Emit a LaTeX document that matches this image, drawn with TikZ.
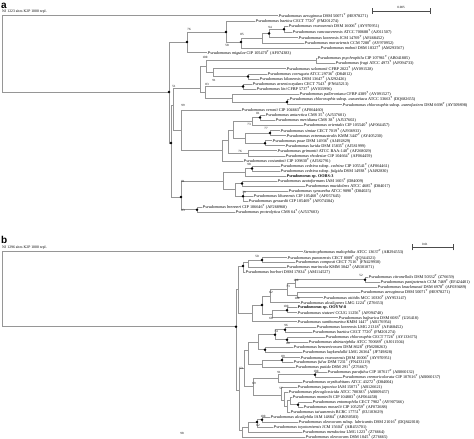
\documentclass[tikz,border=0pt]{standalone}
\usepackage{fontspec}
\setmainfont{Liberation Serif}
\setsansfont{Liberation Sans}
\usetikzlibrary{positioning}
\definecolor{branchgray}{RGB}{150,150,150}
\newcommand{\taxon}[3]{\textit{Pseudomonas #1} #2\textsuperscript{T} (#3)}

\begin{document}
\begin{tikzpicture}[
    x=1pt, y=-1pt,
    branch/.style={draw=branchgray, line width=0.8pt},
    taxonlabel/.style={anchor=west, inner sep=0.5pt, font=\fontsize{4.2}{4.4}\selectfont},
    bootval/.style={inner sep=0pt, font=\fontsize{3.2}{3.4}\selectfont},
    nodedot/.style={circle, fill=black, inner sep=0pt, minimum size=2.8pt},
    panellabel/.style={anchor=base west, inner sep=0pt, font=\sffamily\bfseries\fontsize{10}{10}\selectfont},
    headline/.style={anchor=west, inner sep=0pt, font=\fontsize{3.8}{4}\selectfont},
    scalebar/.style={draw=black!70, line width=0.5pt, |-|}
]
\useasboundingbox (0,0) rectangle (474,439);

% ---------------- panel a
\node[panellabel] (pa) at (1,8.5) {a};
\node[headline] (ha) at (2,11.5) {NJ 1223 sites K2P 1000 repl.};
\draw[scalebar] (372,11) -- (430,11);
\node[bootval] (sa) at (401,7.5) {0.005};

\node[taxonlabel] (aer) at (278,15.7) {\taxon{aeruginosa}{DSM 50071}{HE978271}};
\node[taxonlabel] (bae) at (255,21.3) {\taxon{baetica}{CECT 7720}{FM201274}};
\node[taxonlabel] (vra) at (288,26.3) {\taxon{vranovensis}{DSM 16006}{AY970951}};
\node[taxonlabel] (van) at (292,32) {\taxon{vancouverensis}{ATCC 700688}{AJ011507}};
\node[taxonlabel] (kor) at (298,37.5) {\taxon{koreensis}{JCM 14769}{AF468452}};
\node[taxonlabel] (mor) at (304,43) {\taxon{moraviensis}{CCM 7280}{AY970952}};
\node[taxonlabel] (moh) at (320,48) {\taxon{mohnii}{DSM 18327}{AM293567}};
\node[taxonlabel] (mig) at (207,52.7) {\taxon{migulae}{CIP 105470}{AF074383}};
\node[taxonlabel] (psy) at (317,58.3) {\taxon{psychrophila}{CIP 107961}{AB041885}};
\node[taxonlabel] (fra) at (335,63.3) {\taxon{fragi}{ATCC 4973}{AF094733}};
\node[taxonlabel] (sal) at (286,68.7) {\taxon{salomonii}{CFBP 2022}{AY091528}};
\node[taxonlabel] (cor) at (267,74) {\taxon{corrugata}{ATCC 29736}{D84012}};
\node[taxonlabel] (kil) at (259,79) {\taxon{kilonensis}{DSM 13647}{AJ292426}};
\node[taxonlabel] (ars) at (252,83.9) {\taxon{arsenicoxydans}{CECT 7543}{FN645213}};
\node[taxonlabel] (lin) at (256,89) {\taxon{lini}{CFBP 5737}{AY035996}};
\node[taxonlabel] (pal) at (299,94.3) {\taxon{palleroniana}{CFBP 4389}{AY091527}};
\node[taxonlabel] (aur) at (289,99.3) {\taxon{chlororaphis\upshape{} subsp. \itshape aurantiaca}{ATCC 33663}{DQ682655}};
\node[taxonlabel] (auf) at (342,104.5) {\taxon{chlororaphis\upshape{} subsp. \itshape aureofaciens}{DSM 6698}{AY509898}};
\node[taxonlabel] (ver) at (241,110) {\taxon{veronii}{CIP 104663}{AF064460}};
\node[taxonlabel] (ant) at (265,115) {\taxon{antarctica}{CMS 35}{AJ537601}};
\node[taxonlabel] (mer) at (275,120) {\taxon{meridiana}{CMS 38}{AJ537602}};
\node[taxonlabel] (ori) at (303,125) {\taxon{orientalis}{CIP 105540}{AF064457}};
\node[taxonlabel] (sim) at (280,130.5) {\taxon{simiae}{CECT 7019}{AJ936933}};
\node[taxonlabel] (ext) at (286,135.5) {\taxon{extremaustralis}{KMM 3447}{AY405230}};
\node[taxonlabel] (poa) at (272,140.7) {\taxon{poae}{DSM 14936}{AJ492829}};
\node[taxonlabel] (lur) at (285,145.7) {\taxon{lurida}{DSM 15835}{AJ581999}};
\node[taxonlabel] (gri) at (277,150.7) {\taxon{grimontii}{ATCC BAA-140}{AF268029}};
\node[taxonlabel] (rho) at (285,156) {\taxon{rhodesiae}{CIP 104664}{AF064459}};
\node[taxonlabel] (cos) at (243,161) {\taxon{costantinii}{CIP 109830}{AJ582791}};
\node[taxonlabel] (cec) at (280,166) {\taxon{cedrina\upshape{} subsp. \itshape cedrina}{CIP 105541}{AF064461}};
\node[taxonlabel] (cef) at (280,171) {\taxon{cedrina\upshape{} subsp. \itshape fulgida}{DSM 14938}{AJ492830}};
\node[taxonlabel] (oob) at (286,176) {\textbf{\textit{Pseudomonas} sp. OOBS-3}};
\node[taxonlabel] (azo) at (277,181) {\taxon{azotoformans}{IAM 1603}{D84009}};
\node[taxonlabel] (muc) at (305,186) {\taxon{mucidolens}{ATCC 4685}{D84017}};
\node[taxonlabel] (syn) at (288,191.3) {\taxon{synxantha}{ATCC 9890}{D84025}};
\node[taxonlabel] (lib) at (253,196.3) {\taxon{libanensis}{CIP 105460}{AF057645}};
\node[taxonlabel] (ges) at (248,201.3) {\taxon{gessardii}{CIP 105469}{AF074384}};
\node[taxonlabel] (bre) at (202,207.3) {\taxon{brenneri}{CIP 106646}{AF268968}};
\node[taxonlabel] (pro) at (235,212.3) {\taxon{proteolytica}{CMS 64}{AJ537603}};

\coordinate (Ra) at (2,54);
\coordinate (A) at (169,92);
\coordinate (N76) at (187,42);
\coordinate (N58) at (226,32);
\coordinate (N85) at (241,42);
\coordinate (Nx) at (262,38.2);
\coordinate (N94) at (269,33.4);
\coordinate (N284) at (284,29.2);
\coordinate (B) at (171,143);
\coordinate (C) at (173,105);
\coordinate (P) at (200,88);
\coordinate (N100) at (206,66.7);
\coordinate (Npf) at (316,60.8);
\coordinate (N91) at (213,72.6);
\coordinate (Nck) at (248,76.5);
\coordinate (N83) at (205,92.2);
\coordinate (Nal) at (243,86.4);
\coordinate (Npal) at (232,98.1);
\coordinate (N99) at (287,101.9);
\coordinate (Q) at (181,130);
\coordinate (Qc) at (222,150);
\coordinate (Qb) at (228,140);
\coordinate (Qa) at (233,130);
\coordinate (N73) at (252,121.2);
\coordinate (N81) at (260,117.5);
\coordinate (N138) at (245,138.1);
\coordinate (N77) at (270,133);
\coordinate (Npl) at (265,143.2);
\coordinate (N76b) at (248,153.4);
\coordinate (D) at (181,197);
\coordinate (E) at (223,181);
\coordinate (F) at (197,209.8);
\coordinate (Ncb) at (245,172.3);
\coordinate (Nced) at (252,168.5);
\coordinate (Nmid) at (235,189);
\coordinate (Nam) at (242,183.5);
\coordinate (Ng) at (243,196.3);

\draw[branch] (Ra) |- (aer.west) (Ra) |- (A);
\draw[branch] (A) |- (N76) (A) |- (B);
\draw[branch] (N76) |- (N58) (N76) |- (mig.west);
\draw[branch] (N58) |- (bae.west) (N58) |- (N85);
\draw[branch] (N85) |- (Nx) (N85) |- (moh.west);
\draw[branch] (Nx) |- (N94) (Nx) |- (mor.west);
\draw[branch] (N94) |- (N284) (N94) |- (kor.west);
\draw[branch] (N284) |- (vra.west) (N284) |- (van.west);
\draw[branch] (B) |- (C) (B) |- (D);
\draw[branch] (C) |- (P) (C) |- (Q);
\draw[branch] (P) |- (N100) (P) |- (N83);
\draw[branch] (N100) |- (Npf) (N100) |- (N91);
\draw[branch] (Npf) |- (psy.west) (Npf) |- (fra.west);
\draw[branch] (N91) |- (sal.west) (N91) |- (Nck);
\draw[branch] (Nck) |- (cor.west) (Nck) |- (kil.west);
\draw[branch] (N83) |- (Nal) (N83) |- (Npal);
\draw[branch] (Nal) |- (ars.west) (Nal) |- (lin.west);
\draw[branch] (Npal) |- (pal.west) (Npal) |- (N99);
\draw[branch] (N99) |- (aur.west) (N99) |- (auf.west);
\draw[branch] (Q) |- (ver.west) (Q) |- (Qc);
\draw[branch] (Qc) |- (Qb) (Qc) |- (cos.west);
\draw[branch] (Qb) |- (Qa) (Qb) |- (N76b);
\draw[branch] (Qa) |- (N73) (Qa) |- (N138);
\draw[branch] (N73) |- (N81) (N73) |- (ori.west);
\draw[branch] (N81) |- (ant.west) (N81) |- (mer.west);
\draw[branch] (N138) |- (N77) (N138) |- (Npl);
\draw[branch] (N77) |- (sim.west) (N77) |- (ext.west);
\draw[branch] (Npl) |- (poa.west) (Npl) |- (lur.west);
\draw[branch] (N76b) |- (gri.west) (N76b) |- (rho.west);
\draw[branch] (D) |- (E) (D) |- (F);
\draw[branch] (E) |- (Ncb) (E) |- (Nmid);
\draw[branch] (Ncb) |- (Nced) (Ncb) |- (oob.west);
\draw[branch] (Nced) |- (cec.west) (Nced) |- (cef.west);
\draw[branch] (Nmid) |- (Nam) (Nmid) |- (Ng);
\draw[branch] (Nam) |- (azo.west) (Nam) |- (muc.west);
\draw[branch] (Ng) |- (syn.west) (Ng) |- (lib.west) (Ng) |- (ges.west);
\draw[branch] (F) |- (bre.west) (F) |- (pro.west);

\foreach \n in {A,N76,N58,N85,N94,N284,B,Nck,Nal,N99,N81,N77,Npl,Nced,Nam,Ng,D,F}
    \node[nodedot] at (\n) {};

% bootstrap values
\node[bootval] at (174,86) {51};
\node[bootval] at (189,29) {76};
\node[bootval] at (227,45) {58};
\node[bootval] at (242,34) {85};
\node[bootval] at (270,27) {94};
\node[bootval] at (205,57) {100};
\node[bootval] at (214,80) {91};
\node[bootval] at (207,84) {83};
\node[bootval] at (183,105) {99};
\node[bootval] at (258,113) {81};
\node[bootval] at (249,124) {73};
\node[bootval] at (266,128) {77};
\node[bootval] at (240,151) {76};
\node[bootval] at (249,164) {98};
\node[bootval] at (244,192) {79};
\node[bootval] at (183,181) {81};
\node[bootval] at (183,210) {83};

% ---------------- panel b
\node[panellabel] (pb) at (1,243) {b};
\node[headline] (hb) at (2,247.5) {NJ 1296 sites K2P 1000 repl.};
\draw[scalebar] (412,247.3) -- (453,247.3);
\node[bootval] (sb) at (425,244) {0.01};

\node[taxonlabel] (ste) at (303,251.7) {\textit{Stenotrophomonas maltophilia} ATCC 13637\textsuperscript{T} (AB294553)};
\node[taxonlabel] (pun) at (287,257.7) {\taxon{punonensis}{CECT 8089}{JQ344321}};
\node[taxonlabel] (com) at (295,262.3) {\taxon{composti}{CECT 7516}{FN429930}};
\node[taxonlabel] (mar) at (286,267.3) {\taxon{marincola}{KMM 3042}{AB301071}};
\node[taxonlabel] (bor) at (245,272.3) {\taxon{borbori}{DSM 17834}{AM114527}};
\node[taxonlabel] (cit) at (368,277.3) {\taxon{citronellolis}{DSM 50332}{Z76659}};
\node[taxonlabel] (pan) at (380,282.3) {\taxon{panipatensis}{CCM 7469}{EF424401}};
\node[taxonlabel] (kna) at (377,287.3) {\taxon{knackmussii}{DSM 6978}{AF039489}};
\node[taxonlabel] (aeb) at (360,292.3) {\taxon{aeruginosa}{DSM 50071}{HE978271}};
\node[taxonlabel] (oti) at (323,297.7) {\taxon{otitidis}{MCC 10330}{AY953147}};
\node[taxonlabel] (alc) at (300,302.7) {\taxon{alcaligenes}{LMG 1224}{Z76653}};
\node[taxonlabel] (ooy) at (297,307.7) {\textbf{\textit{Pseudomonas} sp. OOYW-8}};
\node[taxonlabel] (stu) at (297,312.7) {\taxon{stutzeri}{CCUG 11256}{AF094748}};
\node[taxonlabel] (bal) at (338,317.5) {\taxon{balearica}{DSM 6083}{U26418}};
\node[taxonlabel] (xan) at (297,321.7) {\taxon{xanthomarina}{KMM 1447}{AB176954}};
\node[taxonlabel] (kob) at (316,327.3) {\taxon{koreensis}{LMG 21318}{AF468452}};
\node[taxonlabel] (bab) at (312,332.3) {\taxon{baetica}{CECT 7720}{FM201274}};
\node[taxonlabel] (chb) at (325,337.3) {\taxon{chlororaphis}{CECT 7726}{AY133675}};
\node[taxonlabel] (abi) at (308,342.3) {\taxon{abietaniphila}{ATCC 700689}{AJ011504}};
\node[taxonlabel] (ben) at (293,347.3) {\taxon{benzenivorans}{DSM 8628}{FM208263}};
\node[taxonlabel] (kuy) at (302,352.3) {\taxon{kuykendallii}{LMG 26364}{JF749828}};
\node[taxonlabel] (vrb) at (300,357.7) {\taxon{vranovensis}{DSM 16006}{AY970951}};
\node[taxonlabel] (ful) at (293,362.3) {\taxon{fulva}{DSM 7231}{FN433119}};
\node[taxonlabel] (put) at (295,367.3) {\taxon{putida}{DSM 291}{Z76667}};
\node[taxonlabel] (par) at (327,372.3) {\taxon{parafulva}{CIP 107617}{AB060132}};
\node[taxonlabel] (cre) at (342,377.3) {\taxon{cremoricolorata}{CIP 107616}{AB060137}};
\node[taxonlabel] (ory) at (302,382.3) {\taxon{oryzihabitans}{ATCC 43272}{D84004}};
\node[taxonlabel] (jap) at (297,387.3) {\taxon{japonica}{IAM 15071}{AB126621}};
\node[taxonlabel] (ple) at (288,392.3) {\taxon{plecoglossicida}{ATCC 700383}{AB009457}};
\node[taxonlabel] (mon) at (292,397.3) {\taxon{monteilii}{CIP 104883}{AF064458}};
\node[taxonlabel] (ent) at (312,402.3) {\taxon{entomophila}{CECT 7902}{AY907566}};
\node[taxonlabel] (mos) at (303,407.3) {\taxon{mosselii}{CIP 105259}{AF072688}};
\node[taxonlabel] (tai) at (290,412.3) {\taxon{taiwanensis}{BCRC 17751}{EU103629}};
\node[taxonlabel] (alp) at (270,417.3) {\taxon{alcaliphila}{IAM 14884}{AB030583}};
\node[taxonlabel] (olu) at (298,422.3) {\taxon{oleovorans\upshape{} subsp. \itshape lubricantis}{DSM 21016}{DQ842018}};
\node[taxonlabel] (toy) at (273,427.3) {\taxon{toyotomiensis}{JCM 15604}{AB453701}};
\node[taxonlabel] (men) at (302,432.3) {\taxon{mendocina}{LMG 1223}{Z76664}};
\node[taxonlabel] (ole) at (305,437.3) {\taxon{oleovorans}{DSM 1045}{Z76665}};

\coordinate (Rb) at (2,289);
\coordinate (bN1) at (236,326.7);
\coordinate (bU) at (238,289);
\coordinate (bNmb) at (243,266);
\coordinate (bNm) at (248,262.5);
\coordinate (bNpc) at (262,260);
\coordinate (bNxa) at (252,313);
\coordinate (bNxx) at (262,305);
\coordinate (bN62) at (270,296);
\coordinate (bN73) at (287,289);
\coordinate (bNck) at (295,283.5);
\coordinate (bNcpk) at (365,279.8);
\coordinate (bN100) at (297,295);
\coordinate (bN68) at (272,314);
\coordinate (bNst) at (287,310.2);
\coordinate (bL) at (239,390);
\coordinate (bL1) at (244,368);
\coordinate (bN53) at (248,350);
\coordinate (bNq) at (258,342);
\coordinate (bN74) at (275,334.8);
\coordinate (bN96) at (285,329.8);
\coordinate (bN80) at (287,339.8);
\coordinate (bNbh) at (265,349.8);
\coordinate (bNqp) at (262,364);
\coordinate (bN89) at (282,360);
\coordinate (bN69) at (253,386);
\coordinate (bN91) at (278,378.5);
\coordinate (bNpp) at (315,374.8);
\coordinate (bNj) at (281,395);
\coordinate (bNpl) at (284,400);
\coordinate (bNmt) at (287,406);
\coordinate (bNmm) at (290,400);
\coordinate (bNem) at (298,404.8);
\coordinate (bNol) at (242,430);
\coordinate (bNmo) at (248,427);
\coordinate (bN62d) at (257,422);
\coordinate (bNal) at (262,419.8);

\draw[branch] (Rb) |- (ste.west) (Rb) |- (bN1);
\draw[branch] (bN1) |- (bU) (bN1) |- (bL);
\draw[branch] (bU) |- (bNmb) (bU) |- (bNxa);
\draw[branch] (bNmb) |- (bNm) (bNmb) |- (bor.west);
\draw[branch] (bNm) |- (bNpc) (bNm) |- (mar.west);
\draw[branch] (bNpc) |- (pun.west) (bNpc) |- (com.west);
\draw[branch] (bNxa) |- (bNxx) (bNxa) |- (xan.west);
\draw[branch] (bNxx) |- (bN62) (bNxx) |- (bN68);
\draw[branch] (bN62) |- (bN73) (bN62) |- (alc.west);
\draw[branch] (bN73) |- (bNck) (bN73) |- (bN100);
\draw[branch] (bNck) |- (bNcpk) (bNck) |- (kna.west);
\draw[branch] (bNcpk) |- (cit.west) (bNcpk) |- (pan.west);
\draw[branch] (bN100) |- (aeb.west) (bN100) |- (oti.west);
\draw[branch] (bN68) |- (bNst) (bN68) |- (bal.west);
\draw[branch] (bNst) |- (ooy.west) (bNst) |- (stu.west);
\draw[branch] (bL) |- (bL1) (bL) |- (bNol);
\draw[branch] (bL1) |- (bN53) (bL1) |- (bN69);
\draw[branch] (bN53) |- (bNq) (bN53) |- (bNqp);
\draw[branch] (bNq) |- (bN74) (bNq) |- (bNbh);
\draw[branch] (bN74) |- (bN96) (bN74) |- (bN80);
\draw[branch] (bN96) |- (kob.west) (bN96) |- (bab.west);
\draw[branch] (bN80) |- (chb.west) (bN80) |- (abi.west);
\draw[branch] (bNbh) |- (ben.west) (bNbh) |- (kuy.west);
\draw[branch] (bNqp) |- (bN89) (bNqp) |- (put.west);
\draw[branch] (bN89) |- (vrb.west) (bN89) |- (ful.west);
\draw[branch] (bN69) |- (bN91) (bN69) |- (bNj);
\draw[branch] (bN91) |- (bNpp) (bN91) |- (ory.west);
\draw[branch] (bNpp) |- (par.west) (bNpp) |- (cre.west);
\draw[branch] (bNj) |- (jap.west) (bNj) |- (bNpl);
\draw[branch] (bNpl) |- (ple.west) (bNpl) |- (bNmt);
\draw[branch] (bNmt) |- (bNmm) (bNmt) |- (tai.west);
\draw[branch] (bNmm) |- (mon.west) (bNmm) |- (bNem);
\draw[branch] (bNem) |- (ent.west) (bNem) |- (mos.west);
\draw[branch] (bNol) |- (bNmo) (bNol) |- (ole.west);
\draw[branch] (bNmo) |- (bN62d) (bNmo) |- (men.west);
\draw[branch] (bN62d) |- (bNal) (bN62d) |- (toy.west);
\draw[branch] (bNal) |- (alp.west) (bNal) |- (olu.west);

\foreach \n in {bN1,bNmb,bNpc,bNxx,bNcpk,bNst,bN74,bN96,bN80,bNbh,bN89,bNpp,bNem,bNal,bN62d}
    \node[nodedot] at (\n) {};

% bootstrap values
\node[bootval] at (257,256) {50};
\node[bootval] at (361,275) {52};
\node[bootval] at (296,280) {100};
\node[bootval] at (288,286) {73};
\node[bootval] at (297,298.5) {100};
\node[bootval] at (271,292) {62};
\node[bootval] at (286,306) {100};
\node[bootval] at (271,318) {68};
\node[bootval] at (286,325) {96};
\node[bootval] at (276,331) {74};
\node[bootval] at (288,343) {80};
\node[bootval] at (283,356) {89};
\node[bootval] at (241,368) {53};
\node[bootval] at (316,371) {100};
\node[bootval] at (279,372) {91};
\node[bootval] at (254,383) {69};
\node[bootval] at (281,388) {57};
\node[bootval] at (263,416) {100};
\node[bootval] at (258,425.5) {62};
\node[bootval] at (182,433) {98};
\end{tikzpicture}
\end{document}
